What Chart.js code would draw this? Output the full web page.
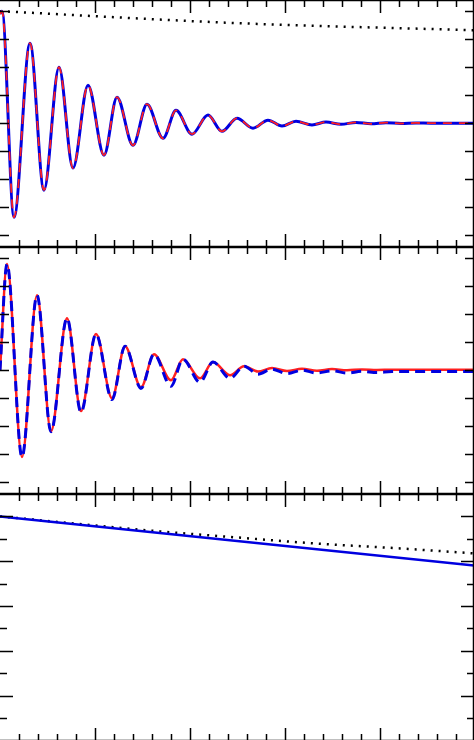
<!DOCTYPE html>
<html>
<head>
<meta charset="utf-8">
<script src="https://cdn.jsdelivr.net/npm/chart.js@4/dist/chart.umd.min.js"></script>
<style>
  html, body { margin: 0; padding: 0; background: #fff; overflow: hidden; }
  canvas { position: absolute; left: 0; }
</style>
</head>
<body>
<canvas id="c1" width="474" height="247" style="top:0"></canvas>
<canvas id="c2" width="474" height="247" style="top:247px"></canvas>
<canvas id="c3" width="474" height="247" style="top:494px"></canvas>
<script>
// top panel
var topX = [0, 2, 14, 30, 44, 59, 73, 88, 104, 117, 133, 147, 163, 176, 192, 208, 222, 237, 253, 268, 282, 296, 312, 326, 341, 356, 371, 386, 401, 416, 431, 446, 474];
var topY = [3.9, 4.0, -3.36, 2.86, -2.39, 2.0, -1.6, 1.36, -1.14, 0.93, -0.79, 0.68, -0.54, 0.46, -0.39, 0.29, -0.29, 0.18, -0.18, 0.11, -0.1, 0.07, -0.06, 0.04, -0.04, 0.03, -0.02, 0.02, -0.01, 0.01, 0, 0, 0];
var topEnvX = [0, 240, 474];
var topEnvY = [4.0, 3.57, 3.32];

// middle panel
var midX = [0, 7, 22, 37, 51, 67, 81, 96, 112, 125, 141, 154, 171, 183, 200, 213, 230, 244, 258, 272, 287, 302, 317, 332, 347, 362, 377, 392, 474];
var midRed = [0, 3.79, -3.1, 2.68, -2.18, 1.86, -1.46, 1.29, -1.0, 0.86, -0.61, 0.57, -0.36, 0.39, -0.29, 0.29, -0.18, 0.14, -0.05, 0.08, -0.03, 0.05, -0.02, 0.04, 0, 0.03, 0.01, 0.02, 0.02];
var midBlue = [0, 3.79, -3.1, 2.68, -2.2, 1.86, -1.5, 1.29, -1.05, 0.86, -0.65, 0.57, -0.57, 0.39, -0.43, 0.29, -0.29, 0.14, -0.14, 0.04, -0.12, 0, -0.1, -0.02, -0.1, -0.04, -0.08, -0.05, -0.05];

// bottom panel
var botX = [0, 474];
var botBlue = [0, -2.19];
var botDotX = [0, 160, 237, 316, 400, 474];
var botDotY = [0, -0.67, -0.94, -1.21, -1.43, -1.65];

function pts(xs, ys) {
    return xs.map(function (x, i) { return { x: x, y: ys[i] }; });
}

var frame = {
    id: 'frame',
    afterDraw: function (chart) {
        var o = chart.options.plugins.frame;
        var ctx = chart.ctx, a = chart.chartArea;
        var xs = chart.scales.x, ys = chart.scales.y;
        ctx.save();
        ctx.strokeStyle = '#000';
        ctx.lineWidth = 1.5;
        ctx.beginPath();
        ctx.moveTo(a.left, a.top + 0.5); ctx.lineTo(a.right - 0.5, a.top + 0.5);
        ctx.lineTo(a.right - 0.5, a.bottom - 0.5); ctx.lineTo(a.left, a.bottom - 0.5);
        for (var k = 1; k < 25; k++) {
            var px = Math.round(xs.getPixelForValue(k * 19)) + 0.5;
            var len = k % 5 === 0 ? 13 : 7;
            ctx.moveTo(px, a.top); ctx.lineTo(px, a.top + len);
            ctx.moveTo(px, a.bottom); ctx.lineTo(px, a.bottom - len);
        }
        for (var v = Math.ceil(ys.min); v <= ys.max; v++) {
            var py = Math.round(ys.getPixelForValue(v)) + 0.5;
            var l = o.alternate ? (v % 2 === 0 ? 13 : 7) : 9;
            ctx.moveTo(a.left, py); ctx.lineTo(a.left + l, py);
            ctx.moveTo(a.right, py); ctx.lineTo(a.right - l, py);
        }
        ctx.stroke();
        ctx.restore();
    }
};

function makeChart(id, datasets, ymin, ymax, alternate) {
    return new Chart(document.getElementById(id), {
        type: 'scatter',
        data: { datasets: datasets },
        options: {
            responsive: false,
            animation: false,
            layout: { padding: 0 },
            elements: { point: { radius: 0 }, line: { cubicInterpolationMode: 'monotone' } },
            scales: {
                x: { type: 'linear', min: 0, max: 474, display: false },
                y: { min: ymin, max: ymax, display: false }
            },
            plugins: { legend: { display: false }, tooltip: { enabled: false }, frame: { alternate: alternate } }
        },
        plugins: [frame]
    });
}

// first dataset is drawn on top
makeChart('c1', [
    { data: pts(topX, topY), showLine: true, borderColor: '#ff2020', borderWidth: 1.8, borderDash: [9, 7] },
    { data: pts(topX, topY), showLine: true, borderColor: '#0000e0', borderWidth: 3 },
    { data: pts(topEnvX, topEnvY), showLine: true, borderColor: '#000', borderWidth: 2.5, borderDash: [2, 6] }
], -4.42, 4.4, false);

makeChart('c2', [
    { data: pts(midX, midBlue), showLine: true, borderColor: '#0000e0', borderWidth: 3, borderDash: [10, 6] },
    { data: pts(midX, midRed), showLine: true, borderColor: '#ff2020', borderWidth: 2.5 }
], -4.42, 4.4, false);

makeChart('c3', [
    { data: pts(botX, botBlue), showLine: true, borderColor: '#0000e0', borderWidth: 2.5 },
    { data: pts(botDotX, botDotY), showLine: true, borderColor: '#000', borderWidth: 2.5, borderDash: [2, 6] }
], 1 - 247 / 22.4, 1, true);
</script>
</body>
</html>
